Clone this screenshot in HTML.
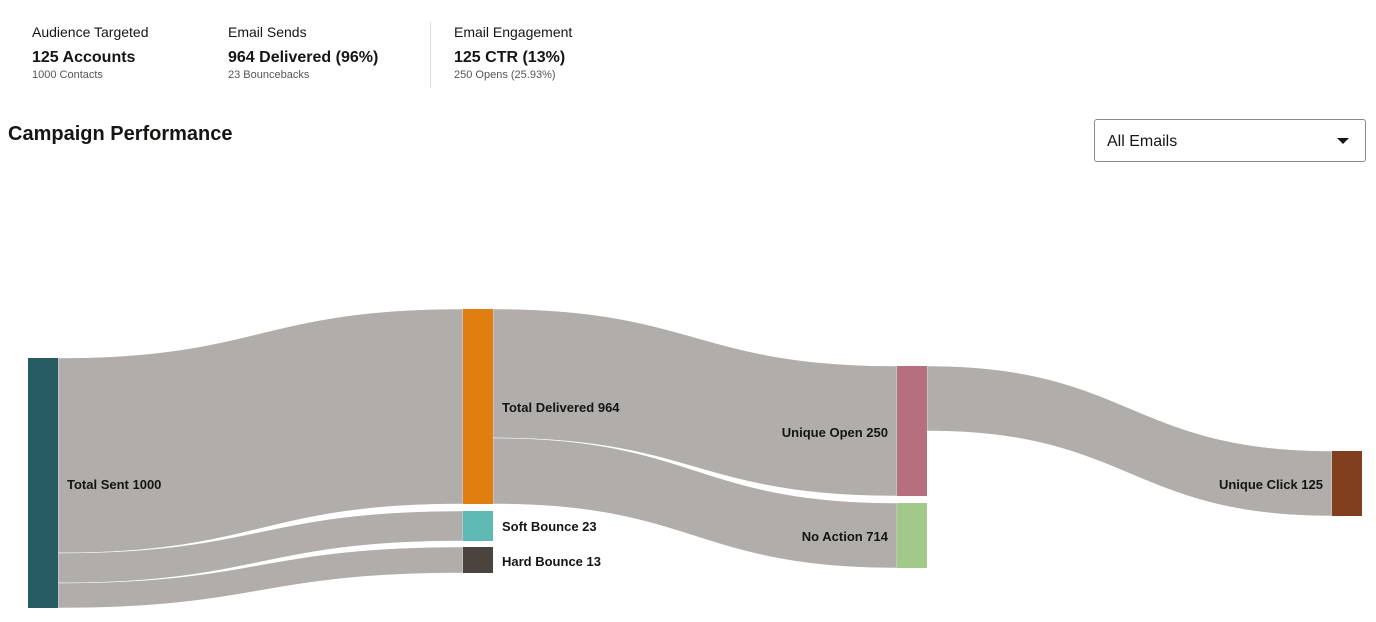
<!DOCTYPE html>
<html><head><style>
body{margin:0;width:1376px;height:622px;background:#fff;font-family:"Liberation Sans",sans-serif;color:#161513;position:relative;overflow:hidden}
.k{position:absolute;top:24px}
.k .t{font-size:14px;color:#161513}
.k .v{font-size:16px;font-weight:bold;margin-top:9px}
.k .s{font-size:11px;color:#555;margin-top:2px}
.sep{position:absolute;left:430px;top:22px;width:1px;height:66px;background:#ddd}
h2{position:absolute;left:8px;top:123px;margin:0;font-size:20px;font-weight:bold}
.dd{position:absolute;left:1094px;top:119px;width:272px;height:43px;border:1px solid #8a8a8a;border-radius:3px;box-sizing:border-box;font-size:16px;padding:13px 0 0 12px}
.dd:after{content:"";position:absolute;right:16px;top:18px;border-left:6px solid transparent;border-right:6px solid transparent;border-top:6px solid #161513}
svg text{font-family:"Liberation Sans",sans-serif;font-weight:bold;font-size:13px;fill:#161513}
</style></head><body>
<div class="k" style="left:32px"><div class="t">Audience Targeted</div><div class="v">125 Accounts</div><div class="s">1000 Contacts</div></div>
<div class="k" style="left:228px"><div class="t">Email Sends</div><div class="v">964 Delivered (96%)</div><div class="s">23 Bouncebacks</div></div>
<div class="sep"></div>
<div class="k" style="left:454px"><div class="t">Email Engagement</div><div class="v">125 CTR (13%)</div><div class="s">250 Opens (25.93%)</div></div>
<h2>Campaign Performance</h2>
<div class="dd">All Emails</div>
<svg width="1376" height="622" style="position:absolute;left:0;top:0">
<g fill="#b0adaa" stroke="#fff" stroke-width="0.5">
<path d="M58,358 C260,358 260,309 463,309 L463,504 C260,504 260,553 58,553 Z"/>
<path d="M58,553 C260,553 260,511 463,511 L463,541 C260,541 260,583 58,583 Z"/>
<path d="M58,583 C260,583 260,547 463,547 L463,573 C260,573 260,608 58,608 Z"/>
<path d="M493,309 C695,309 695,366 897,366 L897,496 C695,496 695,438 493,438 Z"/>
<path d="M493,438 C695,438 695,503 897,503 L897,568 C695,568 695,504 493,504 Z"/>
<path d="M927,366 C1130,366 1130,451 1332,451 L1332,516 C1130,516 1130,431 927,431 Z"/>
</g>
<rect x="28" y="358" width="30" height="250" fill="#255d63"/>
<rect x="463" y="309" width="30" height="195" fill="#e07f10"/>
<rect x="463" y="511" width="30" height="30" fill="#5fbab6"/>
<rect x="463" y="547" width="30" height="26" fill="#4a443e"/>
<rect x="897" y="366" width="30" height="130" fill="#b66f7e"/>
<rect x="897" y="503" width="30" height="65" fill="#a0c98a"/>
<rect x="1332" y="451" width="30" height="65" fill="#823f1f"/>
<text x="67" y="489">Total Sent 1000</text>
<text x="502" y="412">Total Delivered 964</text>
<text x="502" y="531">Soft Bounce 23</text>
<text x="502" y="566">Hard Bounce 13</text>
<text x="888" y="437" text-anchor="end">Unique Open 250</text>
<text x="888" y="541" text-anchor="end">No Action 714</text>
<text x="1323" y="489" text-anchor="end">Unique Click 125</text>
</svg>
</body></html>
